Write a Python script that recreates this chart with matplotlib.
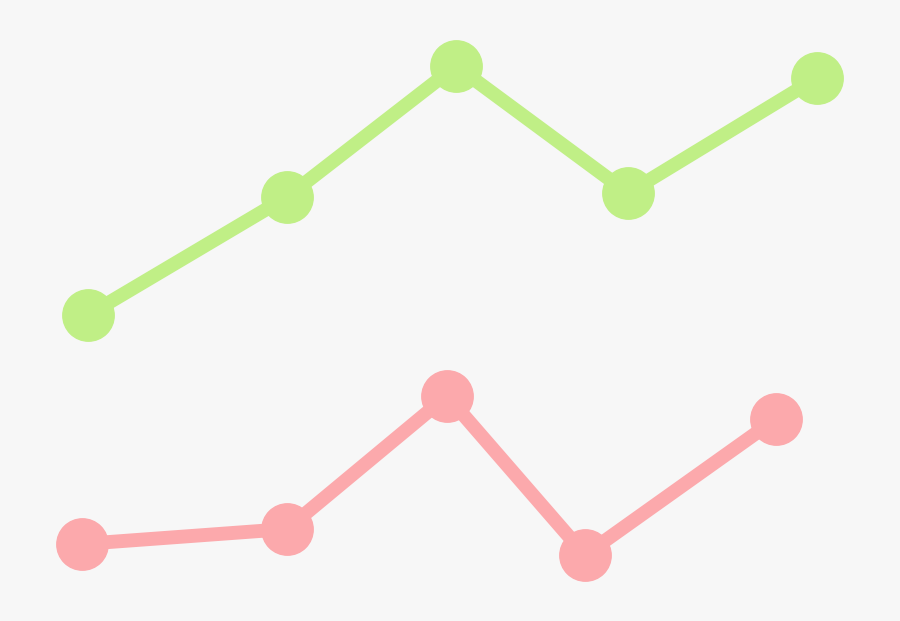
import matplotlib.pyplot as plt

# Values (x position, height), y grows downward
x_green = [88, 287, 456, 628, 817]
y_green = [315, 197, 66, 193, 78]
x_pink = [82, 287, 447, 585, 776]
y_pink = [544, 529, 396, 555, 419]

bg = '#f7f7f7'
fig = plt.figure(figsize=(9, 6.21), dpi=100, facecolor=bg)
ax = fig.add_axes([0, 0, 1, 1])
ax.set_facecolor(bg)

ax.plot(x_green, y_green, color='#c0ef86', lw=10, marker='o', ms=37,
        solid_joinstyle='miter')
ax.plot(x_pink, y_pink, color='#fca9ac', lw=10, marker='o', ms=37,
        solid_joinstyle='miter')

ax.set_xlim(0, 900)
ax.set_ylim(621, 0)
ax.axis('off')

fig.savefig('out.png', dpi=100, facecolor=bg)
